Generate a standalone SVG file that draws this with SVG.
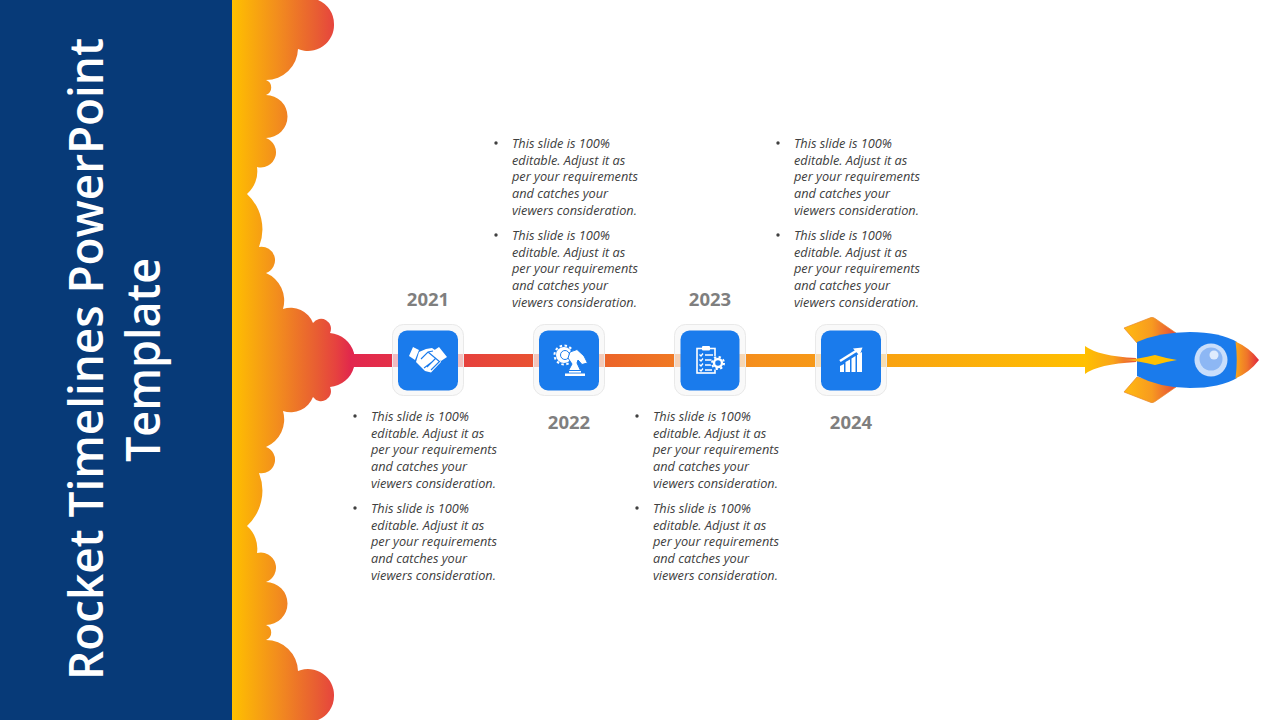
<svg xmlns="http://www.w3.org/2000/svg" width="1280" height="720" viewBox="0 0 1280 720">
<defs>
<linearGradient id="cloud" gradientUnits="userSpaceOnUse" x1="232" y1="0" x2="354" y2="0"><stop offset="0" stop-color="#ffc000"/><stop offset=".38" stop-color="#f28c1e"/><stop offset=".7" stop-color="#e85c33"/><stop offset=".85" stop-color="#e6423f"/><stop offset="1" stop-color="#e0224f"/></linearGradient>
<linearGradient id="beam" gradientUnits="userSpaceOnUse" x1="350" y1="0" x2="1090" y2="0"><stop offset="0" stop-color="#e2264f"/><stop offset=".3" stop-color="#ea5b2c"/><stop offset=".55" stop-color="#f5901c"/><stop offset="1" stop-color="#ffc000"/></linearGradient>
<linearGradient id="flame" gradientUnits="userSpaceOnUse" x1="1085" y1="0" x2="1136" y2="0"><stop offset="0" stop-color="#ffc000"/><stop offset=".55" stop-color="#f9a51a"/><stop offset="1" stop-color="#e8503a"/></linearGradient>
<linearGradient id="inner" gradientUnits="userSpaceOnUse" x1="1123" y1="0" x2="1177" y2="0"><stop offset="0" stop-color="#f08a4a"/><stop offset=".35" stop-color="#ffc000"/><stop offset="1" stop-color="#ffc000"/></linearGradient>
<linearGradient id="fin" gradientUnits="userSpaceOnUse" x1="1128" y1="0" x2="1176" y2="0"><stop offset="0" stop-color="#ffb612"/><stop offset=".5" stop-color="#f79a20"/><stop offset="1" stop-color="#e64a3a"/></linearGradient>
<linearGradient id="nose" gradientUnits="userSpaceOnUse" x1="1235" y1="0" x2="1259" y2="0"><stop offset="0" stop-color="#f7a81b"/><stop offset=".5" stop-color="#f0762a"/><stop offset="1" stop-color="#e0263f"/></linearGradient>
</defs>
<style>
.t{font-family:"Open Sans","Liberation Sans",sans-serif;font-style:italic;font-size:12.75px;fill:#404040}
.y{font-family:"Open Sans","Liberation Sans",sans-serif;font-weight:700;font-size:18.5px;fill:#7f7f7f;text-anchor:middle}
.h{font-family:"Open Sans","Liberation Sans",sans-serif;font-weight:600;font-size:47px;fill:#fff;text-anchor:middle}
.o{fill:#f6f6f6;fill-opacity:.7;stroke:#e9e9e9;stroke-width:1}
.b{fill:#1a7bec}
.w{fill:#fff}
.c{fill:none;stroke:#1a7bec;stroke-width:1.1}
.l{fill:none;stroke:#fff;stroke-width:1.3}
</style>
<rect x="0" y="0" width="232" height="720" fill="#073a78"/>
<g id="title"><text class="h" transform="translate(103 359) rotate(-90)" textLength="642" lengthAdjust="spacingAndGlyphs">Rocket Timelines PowerPoint</text><text class="h" transform="translate(160 360) rotate(-90)" textLength="204" lengthAdjust="spacingAndGlyphs">Template</text></g>
<path id="cloud-shape" fill="url(#cloud)" d="M232 0H318A26 26 0 0 1 334 24A26 26 0 0 1 298 49A32 32 0 0 1 266 80A8 8 0 0 1 266 95A21.500 21.500 0 0 1 266 138A15.200 15.200 0 0 1 257 167A30 30 0 0 1 247 194A48 48 0 0 1 259 247A13.500 13.500 0 0 1 266 273A30 30 0 0 1 283 309A24 24 0 0 1 313 323A9.900 9.900 0 0 1 330 333A27 27 0 0 1 354 353V367A27 27 0 0 1 330 387A9.900 9.900 0 0 1 313 397A24 24 0 0 1 283 411A30 30 0 0 1 266 447A13.500 13.500 0 0 1 259 473A48 48 0 0 1 247 526A30 30 0 0 1 257 553A15.200 15.200 0 0 1 266 582A21.500 21.500 0 0 1 266 625A8 8 0 0 1 266 640A32 32 0 0 1 298 671A26 26 0 0 1 334 696A26 26 0 0 1 318 720H232Z"/>
<g id="connectors"><rect x="350" y="354" width="736" height="13" fill="url(#beam)"/></g>
<g id="node-2021"><rect class="o" x="392.500" y="324.500" width="71" height="71" rx="11"/><rect class="b" x="398" y="330.500" width="60" height="60" rx="9"/>
<path class="w" d="M409 356L413 347L419 350L415 360ZM447 357L439 347L433 351L441 361Z"/>
<path class="w" d="M419 352L426 349L432 348L438 352L441 362L431 372.500L425 371L416 362Z"/>
<path class="c" d="M421 359L428 352L433 351M428 352L440 362M436 358L427 367M432 362L424 368M439 362L431 370"/>
<text class="y" x="428" y="305.500">2021</text></g>
<g id="node-2022"><rect class="o" x="533.500" y="324.500" width="71" height="71" rx="11"/><rect class="b" x="539" y="330.500" width="60" height="60" rx="9"/>
<circle cx="564" cy="355" r="8" class="w"/><circle cx="564" cy="355" r="9.500" fill="none" stroke="#fff" stroke-width="2" stroke-dasharray="2.500 2.500"/><circle cx="565" cy="355" r="4.500" fill="none" stroke="#1a7bec" stroke-width="1"/>
<path class="w" stroke="#1a7bec" stroke-width="1" d="M570 352L577 349.500L584 356L587.500 363L582 364.500L578 360L577 363L580.500 370.500H568.500L572 364L568 358Z"/>
<rect class="w" x="569" y="371" width="12" height="1.600"/><rect class="w" x="565" y="373.500" width="20" height="2.500"/>
<text class="y" x="569" y="428.500">2022</text></g>
<g id="node-2023"><rect class="o" x="674.500" y="324.500" width="71" height="71" rx="11"/><rect class="b" x="680.500" y="330.500" width="59" height="60" rx="9"/>
<rect x="697" y="348.500" width="18" height="24.500" fill="none" stroke="#fff" stroke-width="1.600"/>
<rect class="w" x="702" y="346" width="8" height="4.500" rx="1"/>
<path class="l" d="M699.500 354.500l1.500 1.500 2-2.500M705 355h8M699.500 359.500l1.500 1.500 2-2.500M705 360h8M699.500 364.500l1.500 1.500 2-2.500M705 365h7M699.500 369.500l1.500 1.500 2-2.500M705 370h7"/>
<circle cx="718" cy="363" r="7.500" fill="#1a7bec"/><circle cx="718" cy="363" r="4" fill="none" stroke="#fff" stroke-width="2.400"/><circle cx="718" cy="363" r="6" fill="none" stroke="#fff" stroke-width="2" stroke-dasharray="2.300 2.400"/>
<text class="y" x="710" y="305.500">2023</text></g>
<g id="node-2024"><rect class="o" x="815.500" y="324.500" width="71" height="71" rx="11"/><rect class="b" x="821" y="330.500" width="60" height="60" rx="9"/>
<path class="w" d="M840 366L844 364V372H840ZM845.500 362L850 359.500V372H845.500ZM851.500 358.500L855.500 356V372H851.500ZM857 355L862 352V372H857Z"/>
<path fill="none" stroke="#1a7bec" stroke-width="4.500" d="M838 362L857 351"/>
<path fill="none" stroke="#fff" stroke-width="2.500" d="M840 361L856 351"/>
<path class="w" d="M862.500 347.500L853 348.500L859.500 355.500Z"/>
<text class="y" x="851" y="428.500">2024</text></g>
<g id="text-top-2022">
<circle cx="496" cy="143" r="1.700" fill="#404040"/><text class="t"><tspan x="512" y="148">This slide is 100%</tspan><tspan x="512" y="164.700">editable. Adjust it as</tspan><tspan x="512" y="181.400">per your requirements</tspan><tspan x="512" y="198">and catches your</tspan><tspan x="512" y="214.800">viewers consideration.</tspan></text>
<circle cx="496" cy="235" r="1.700" fill="#404040"/><text class="t"><tspan x="512" y="240">This slide is 100%</tspan><tspan x="512" y="256.700">editable. Adjust it as</tspan><tspan x="512" y="273.400">per your requirements</tspan><tspan x="512" y="290">and catches your</tspan><tspan x="512" y="306.800">viewers consideration.</tspan></text></g>
<g id="text-top-2024">
<circle cx="778" cy="143" r="1.700" fill="#404040"/><text class="t"><tspan x="794" y="148">This slide is 100%</tspan><tspan x="794" y="164.700">editable. Adjust it as</tspan><tspan x="794" y="181.400">per your requirements</tspan><tspan x="794" y="198">and catches your</tspan><tspan x="794" y="214.800">viewers consideration.</tspan></text>
<circle cx="778" cy="235" r="1.700" fill="#404040"/><text class="t"><tspan x="794" y="240">This slide is 100%</tspan><tspan x="794" y="256.700">editable. Adjust it as</tspan><tspan x="794" y="273.400">per your requirements</tspan><tspan x="794" y="290">and catches your</tspan><tspan x="794" y="306.800">viewers consideration.</tspan></text></g>
<g id="text-bottom-2021">
<circle cx="355" cy="416" r="1.700" fill="#404040"/><text class="t"><tspan x="371" y="421">This slide is 100%</tspan><tspan x="371" y="437.700">editable. Adjust it as</tspan><tspan x="371" y="454.400">per your requirements</tspan><tspan x="371" y="471">and catches your</tspan><tspan x="371" y="487.800">viewers consideration.</tspan></text>
<circle cx="355" cy="508" r="1.700" fill="#404040"/><text class="t"><tspan x="371" y="513">This slide is 100%</tspan><tspan x="371" y="529.700">editable. Adjust it as</tspan><tspan x="371" y="546.400">per your requirements</tspan><tspan x="371" y="563">and catches your</tspan><tspan x="371" y="579.800">viewers consideration.</tspan></text></g>
<g id="text-bottom-2023">
<circle cx="637" cy="416" r="1.700" fill="#404040"/><text class="t"><tspan x="653" y="421">This slide is 100%</tspan><tspan x="653" y="437.700">editable. Adjust it as</tspan><tspan x="653" y="454.400">per your requirements</tspan><tspan x="653" y="471">and catches your</tspan><tspan x="653" y="487.800">viewers consideration.</tspan></text>
<circle cx="637" cy="508" r="1.700" fill="#404040"/><text class="t"><tspan x="653" y="513">This slide is 100%</tspan><tspan x="653" y="529.700">editable. Adjust it as</tspan><tspan x="653" y="546.400">per your requirements</tspan><tspan x="653" y="563">and catches your</tspan><tspan x="653" y="579.800">viewers consideration.</tspan></text></g>
<g id="rocket">
<path fill="url(#flame)" d="M1084 354H1085V346Q1098 356 1136 358V362Q1098 364 1085 374V367H1084Z"/>
<path fill="url(#fin)" stroke="#e8862a" stroke-width=".7" d="M1124 328L1151 317.500Q1153 317 1155 318.500L1176 333L1137 343Z"/>
<path fill="url(#fin)" stroke="#e8862a" stroke-width=".7" d="M1124 392L1151 402.500Q1153 403 1155 401.500L1176 387L1137 377Z"/>
<path class="b" d="M1137 342Q1160 332 1190 332Q1220 332 1237 342V378Q1220 388 1190 388Q1160 388 1137 376Z"/>
<path fill="url(#nose)" d="M1235.500 341.500Q1250 348 1259 360Q1250 372 1235.500 378.500Q1238 360 1235.500 341.500Z"/>
<path fill="url(#inner)" d="M1123 360Q1140 359 1155 355Q1165 358 1177 360Q1165 362 1155 365Q1140 361 1123 360Z"/>
<circle cx="1211" cy="360" r="16.500" fill="#c9defb"/><circle cx="1211" cy="359" r="11.500" fill="#8db7f4"/><circle cx="1214" cy="355" r="4.500" fill="#dfebfd"/>
</g>
</svg>
